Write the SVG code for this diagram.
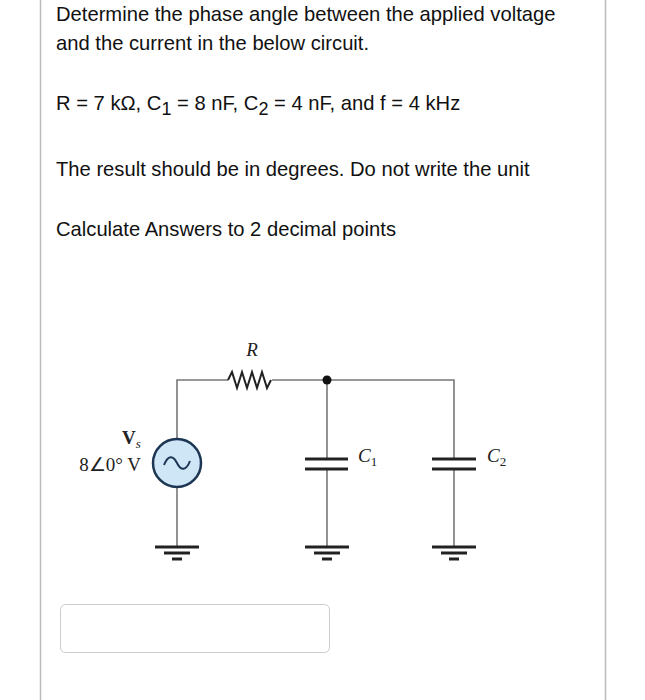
<svg xmlns="http://www.w3.org/2000/svg" width="645" height="700" viewBox="0 0 645 700">
<style>
.t{font-family:"Liberation Sans",Arial,sans-serif;font-size:20.2px;fill:#111}
.w{stroke:#777;stroke-width:1.6;fill:none}
.k{stroke:#222;stroke-width:3;fill:none}
.s{font-family:"Liberation Serif","Times New Roman",serif;font-size:19px;fill:#222}
</style>
<rect width="645" height="700" fill="#fff"/>
<line x1="40.5" y1="0" x2="40.5" y2="700" stroke="#bbb" stroke-width="1.5"/>
<line x1="605.5" y1="0" x2="605.5" y2="700" stroke="#bbb" stroke-width="1.5"/>
<text class="t" x="56" y="21">Determine the phase angle between the applied voltage</text>
<text class="t" x="56" y="50">and the current in the below circuit.</text>
<text class="t" x="56" y="110">R = 7 kΩ, C<tspan font-size="18" dy="5">1</tspan><tspan dy="-5"> = 8 nF, C</tspan><tspan font-size="18" dy="5">2</tspan><tspan dy="-5"> = 4 nF, and f = 4 kHz</tspan></text>
<text class="t" x="56" y="176">The result should be in degrees. Do not write the unit</text>
<text class="t" x="56" y="236">Calculate Answers to 2 decimal points</text>
<g id="connectors">
<path class="w" d="M177 438 V380 H228 M272 380 H454 V459 M454 469 V547 M327 380 V459 M327 469 V547 M177 488 V547"/>
</g>
<g id="R">
<path d="M228 380 l4 -8 l5 16 l5 -16 l5 16 l5 -16 l5 16 l5 -16 l5 16 l4 -8" stroke="#222" stroke-width="2" fill="none"/>
<text class="s" x="252" y="356" text-anchor="middle" font-style="italic">R</text>
</g>
<g id="node"><circle cx="327" cy="380" r="4.5" fill="#111"/></g>
<g id="Vs">
<circle cx="177" cy="463" r="24" fill="#cfe6f7" stroke="#1b3552" stroke-width="2.5"/>
<path d="M164 465 c4 -10 9 -10 13 -2 c4 8 9 8 13 -2" stroke="#1b3552" stroke-width="2" fill="none"/>
<text class="s" x="122" y="444" font-weight="bold">V<tspan font-size="13" font-style="italic" font-weight="normal" dy="4">s</tspan></text>
<text class="s" x="141" y="471" text-anchor="end">8∠0° V</text>
</g>
<g id="C1">
<path class="k" d="M305 459 H348 M305 469 H348"/>
<text class="s" x="358" y="462" font-style="italic">C<tspan font-size="13" font-style="normal" dy="4">1</tspan></text>
</g>
<g id="C2">
<path class="k" d="M432 459 H476 M432 469 H476"/>
<text class="s" x="487" y="462" font-style="italic">C<tspan font-size="13" font-style="normal" dy="4">2</tspan></text>
</g>
<g id="grounds">
<path class="k" d="M155 547 H199 M164 553 H190 M172 559 H182"/>
<path class="k" d="M305 547 H349 M314 553 H340 M322 559 H332"/>
<path class="k" d="M432 547 H476 M441 553 H467 M449 559 H459"/>
</g>
<g id="answer"><rect x="60.5" y="604.5" width="269" height="48" rx="5" fill="#fff" stroke="#ccc"/></g>
</svg>
